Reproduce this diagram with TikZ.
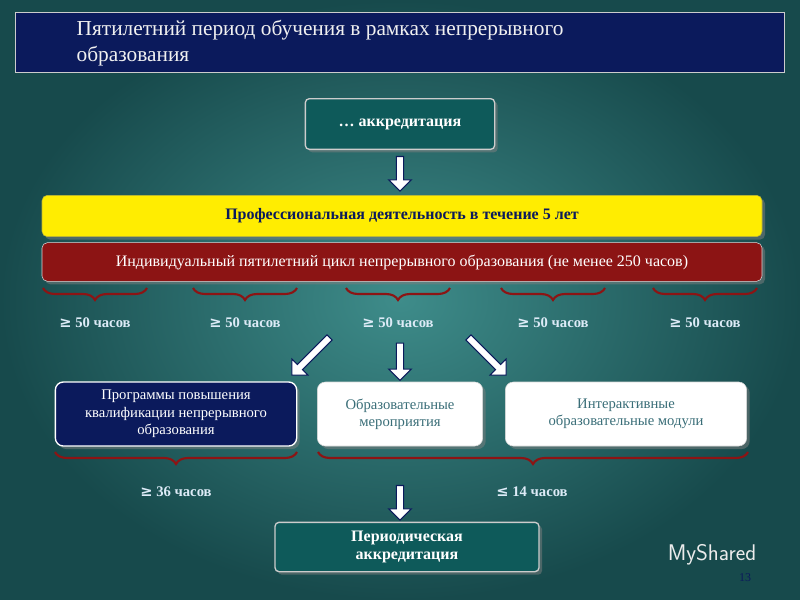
\documentclass[tikz,border=0pt]{standalone}
\usepackage{fontspec}
\setmainfont{Liberation Serif}
\newfontfamily\dvs{DejaVu Sans}
\usetikzlibrary{shapes.arrows,decorations.pathreplacing,shadows}
\definecolor{bgmid}{HTML}{3E8C8A}
\definecolor{bgedge}{HTML}{174A4C}
\definecolor{navy}{HTML}{0B1A5C}
\definecolor{tealbox}{HTML}{0E5A5A}
\definecolor{redbar}{HTML}{8C1414}
\definecolor{lbl}{HTML}{DDEBF7}
\definecolor{graytxt}{HTML}{3A6E78}
\tikzset{
 darkbox/.style={draw=white!80!black,line width=1pt,fill=tealbox,rounded corners=3pt,text=white,font=\bfseries\fontsize{12}{14}\selectfont,align=center,drop shadow},
 bar/.style={rounded corners=4pt,minimum width=540pt,minimum height=31pt,font=\fontsize{12}{14}\selectfont,drop shadow},
 lowbox/.style={rounded corners=6pt,minimum width=181pt,minimum height=48pt,align=center,font=\fontsize{11}{13}\selectfont,drop shadow},
 brc/.style={decorate,decoration={brace,amplitude=9pt},draw=redbar,line width=1.6pt},
 lab/.style={text=lbl,font=\bfseries\fontsize{11}{13}\selectfont},
 harrow/.style={single arrow,draw=navy,fill=white,line width=0.8pt,minimum height=26pt,minimum width=17pt,single arrow head extend=3pt,inner sep=1pt},
}
\begin{document}
\begin{tikzpicture}[x=0.75pt,y=-0.75pt]
\useasboundingbox (0,0) rectangle (800,600);
\shade[inner color=bgmid,outer color=bgedge] (0,0) rectangle (800,600);
\node[draw=white!60!gray,fill=navy,minimum width=577pt,minimum height=45pt,anchor=north west,inner sep=0] (title) at (15,12) {};
\node[anchor=north west,align=left,text=white!88!gray,font=\fontsize{16}{19}\selectfont] (tt) at (72,16) {Пятилетний период обучения в рамках непрерывного\\образования};
\node[darkbox,minimum width=142pt,minimum height=38pt] (acc) at (400,124) {… аккредитация};
\node[harrow,rotate=270] (a1) at (400,172) {};
\node[bar,fill=yellow!95!orange,draw=yellow!70!black,text=navy,font=\bfseries\fontsize{12}{14}\selectfont] (yb) at (402,216) {Профессиональная деятельность в течение 5 лет};
\node[bar,fill=redbar,draw=white!70!gray,text=white,minimum height=29pt] (rb) at (402,262) {Индивидуальный пятилетний цикл непрерывного образования (не менее 250 часов)};
\foreach \c/\n in {95/1,245/2,398/3,553/4,705/5}{
 \draw[brc] (\c+52,288) -- (\c-52,288);
 \node[lab] (l\n) at (\c,323) {{\dvs\bfseries ≥} 50 часов};
}
\node[harrow,rotate=225,minimum height=40pt] (a2) at (312,355) {};
\node[harrow,rotate=270,minimum height=28pt] (a3) at (400,360) {};
\node[harrow,rotate=315,minimum height=40pt] (a4) at (486,355) {};
\node[lowbox,fill=navy,draw=white,line width=1pt,text=white] (b1) at (176,414) {Программы повышения\\квалификации непрерывного\\образования};
\node[lowbox,fill=white,draw=gray!30,text=graytxt,minimum width=124pt] (b2) at (400,414) {Образовательные\\мероприятия};
\node[lowbox,fill=white,draw=gray!30,text=graytxt] (b3) at (626,414) {Интерактивные\\образовательные модули};
\draw[brc] (297,452) -- (55,452);
\draw[brc] (748,452) -- (318,452);
\node[lab] (l6) at (176,492) {{\dvs\bfseries ≥} 36 часов};
\node[lab] (l7) at (532,492) {{\dvs\bfseries ≤} 14 часов};
\node[harrow,rotate=270] (a5) at (400,501) {};
\node[darkbox,minimum width=198pt,minimum height=37pt] (per) at (407,547) {Периодическая\\аккредитация};
\node[text=white!85!gray,font=\sffamily\fontsize{17}{19}\selectfont] (ms) at (712,555) {MyShared};
\node[text=navy,font=\fontsize{9}{11}\selectfont] (pg) at (745,578) {13};
\end{tikzpicture}
\end{document}
